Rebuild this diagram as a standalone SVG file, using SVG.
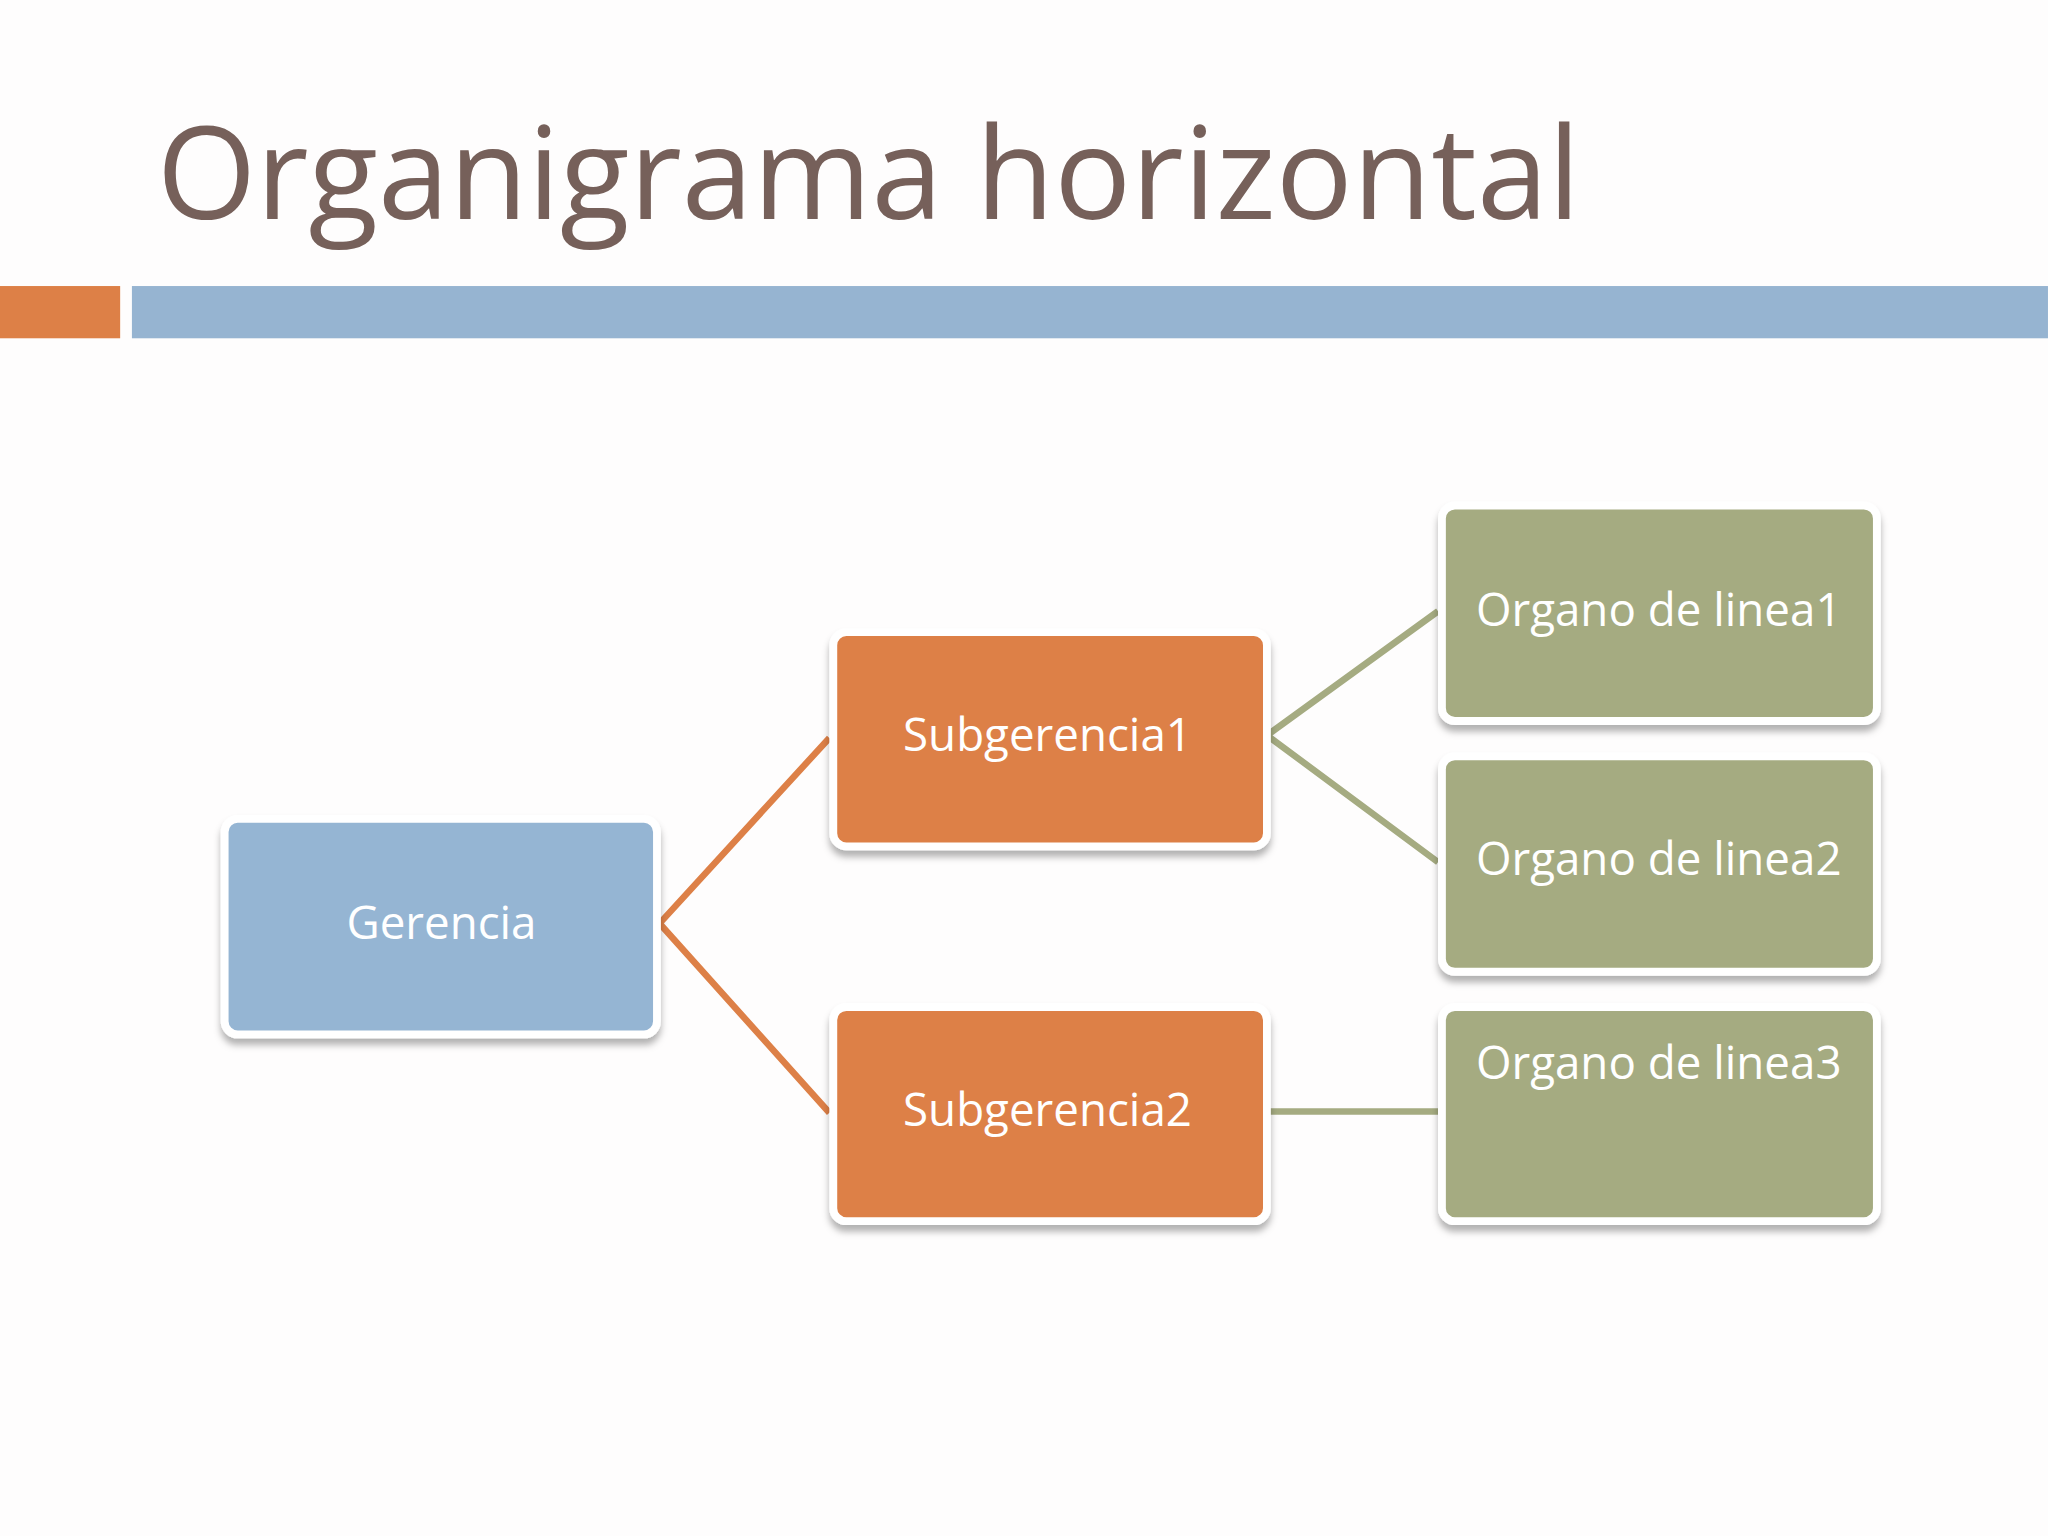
<svg xmlns="http://www.w3.org/2000/svg" width="2048" height="1536" viewBox="0 0 2048 1536">
<defs>
<style>
.box{stroke:#fff;stroke-width:6;filter:url(#sh)}
.t{font-family:"Open Sans","DejaVu Sans",sans-serif;font-size:35px;fill:#fff;text-anchor:middle}
.blue{fill:#95b5d3}.org{fill:#dd8047}.grn{fill:#a5ab81}
</style>
<filter id="sh" x="-10%" y="-10%" width="120%" height="130%"><feDropShadow dx="0" dy="5" stdDeviation="3" flood-color="#000" flood-opacity="0.3"/></filter>
</defs>
<rect width="2048" height="1536" fill="#fefdfd"/>
<g transform="scale(1.3061)">
<text x="120" y="168" font-family="Open Sans, DejaVu Sans, sans-serif" font-size="98" fill="#76605a">Organigrama horizontal</text>
<rect x="0" y="219" width="92" height="40" fill="#dd8047"/>
<rect x="101" y="219" width="1467" height="40" fill="#96b4d1"/>
<g id="connectors" fill="none" stroke-width="5">
<path d="M635 565 L505 707 L635 852" stroke="#dd8047"/>
<path d="M1101 468 L970 563 L1101 660 M970 851 H1101" stroke="#a5ab81"/>
</g>
<g id="gerencia"><rect class="box blue" x="172" y="627" width="331" height="165" rx="10"/><text class="t" x="338" y="719">Gerencia</text></g>
<g id="sub1"><rect class="box org" x="638" y="484" width="332" height="164" rx="10"/><text class="t" x="802" y="575">Subgerencia1</text></g>
<g id="sub2"><rect class="box org" x="638" y="771" width="332" height="164" rx="10"/><text class="t" x="802" y="862">Subgerencia2</text></g>
<g id="org1"><rect class="box grn" x="1104" y="387" width="333" height="165" rx="10"/><text class="t" x="1270" y="479">Organo de linea1</text></g>
<g id="org2"><rect class="box grn" x="1104" y="579" width="333" height="165" rx="10"/><text class="t" x="1270" y="670">Organo de linea2</text></g>
<g id="org3"><rect class="box grn" x="1104" y="771" width="333" height="164" rx="10"/><text class="t" x="1270" y="826">Organo de linea3</text></g>
</g>
</svg>
